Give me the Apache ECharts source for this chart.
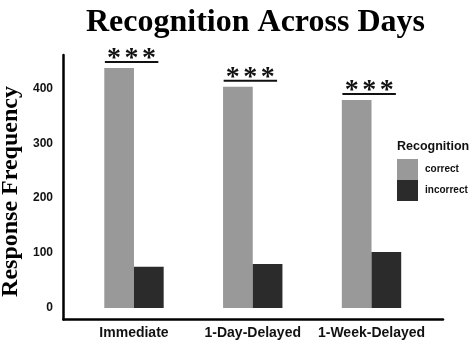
<!DOCTYPE html>
<html>
<head>
<meta charset="utf-8">
<script src="https://cdn.jsdelivr.net/npm/echarts@6/dist/echarts.min.js"></script>
<style>
html,body{margin:0;padding:0;background:#fff;}
#chart{width:474px;height:355px;}
</style>
</head>
<body>
<div id="chart"></div>
<script>
// ---- data ----
const categories = ['Immediate', '1-Day-Delayed', '1-Week-Delayed'];
const correctValues = [437, 403, 379];
const incorrectValues = [75, 80, 102];
const seriesNames = ['correct', 'incorrect'];
const significance = ['***', '***', '***'];
const yMin = 0, yMax = 450, yStep = 100;

const chart = echarts.init(document.getElementById('chart'), null, {renderer: 'canvas'});

const sans = 'Liberation Sans';
const serif = 'Liberation Serif';

const option = {
  backgroundColor: '#fff',
  animation: false,
  title: [
    {
      text: 'Recognition Across Days',
      left: 86, top: 7, padding: 0,
      textStyle: {fontFamily: serif, fontWeight: 'bold', fontSize: 32, color: '#000'}
    },
    {
      text: 'Recognition',
      left: 397, top: 140.5, padding: 0,
      textStyle: {fontFamily: sans, fontWeight: 'bold', fontSize: 12.5, color: '#111'}
    }
  ],
  legend: {
    data: seriesNames,
    orient: 'vertical',
    left: 397, top: 159,
    padding: 0,
    itemWidth: 21, itemHeight: 21, itemGap: 0,
    icon: 'rect',
    textStyle: {fontFamily: sans, fontWeight: 'bold', fontSize: 10, color: '#111', padding: [0, 0, 0, 2]}
  },
  graphic: [
    {
      type: 'text',
      x: 11, y: 191.5,
      rotation: Math.PI / 2,
      style: {
        text: 'Response Frequency',
        font: 'bold 24px "Liberation Serif"',
        fill: '#000',
        align: 'center', verticalAlign: 'middle',
        textAlign: 'center', textVerticalAlign: 'middle'
      }
    }
  ],
  grid: [
    {left: 74.6, right: 43.1, top: 60.9, bottom: 47},
    {left: 63.5, right: 31, top: 55, bottom: 35.5}
  ],
  xAxis: [
    {
      type: 'category', gridIndex: 0, data: categories,
      axisLine: {show: false}, axisTick: {show: false},
      axisLabel: {fontFamily: sans, fontWeight: 'bold', fontSize: 14, color: '#111', margin: 18, interval: 0}
    },
    {
      type: 'value', gridIndex: 1, min: 0, max: 1,
      axisLine: {show: true, lineStyle: {color: '#000', width: 2.5}},
      axisTick: {show: false}, axisLabel: {show: false}, splitLine: {show: false}
    }
  ],
  yAxis: [
    {
      type: 'value', gridIndex: 0, min: yMin, max: yMax, interval: yStep,
      axisLine: {show: false}, axisTick: {show: false}, splitLine: {show: false},
      axisLabel: {fontFamily: sans, fontWeight: 'bold', fontSize: 12, color: '#111', margin: 21.6, showMaxLabel: false}
    },
    {
      type: 'value', gridIndex: 1, min: 0, max: 1,
      axisLine: {show: true, lineStyle: {color: '#000', width: 2.5}},
      axisTick: {show: false}, axisLabel: {show: false}, splitLine: {show: false}
    }
  ],
  series: [
    {
      name: seriesNames[0], type: 'bar', xAxisIndex: 0, yAxisIndex: 0,
      data: correctValues, barGap: 0, barCategoryGap: '50%',
      itemStyle: {color: '#999999'}
    },
    {
      name: seriesNames[1], type: 'bar', xAxisIndex: 0, yAxisIndex: 0,
      data: incorrectValues, barGap: 0, barCategoryGap: '50%',
      itemStyle: {color: '#2b2b2b'}
    },
    {
      type: 'custom', xAxisIndex: 0, yAxisIndex: 0, clip: false, silent: true,
      data: categories.map((c, i) => [i, correctValues[i]]),
      encode: {x: 0, y: 1},
      renderItem: function (params, api) {
        const pt = api.coord([api.value(0), api.value(1)]);
        const bw = api.size([1, 0])[0];
        const left = pt[0] - bw * 0.245;
        const right = pt[0] + bw * 0.205;
        const ly = pt[1] - 6;
        const cx = (left + right) / 2;
        const txt = significance[params.dataIndex];
        const children = [
          {type: 'line', shape: {x1: left, y1: ly, x2: right, y2: ly},
           style: {stroke: '#111', lineWidth: 2}}
        ];
        const n = txt.length;
        for (let k = 0; k < n; k++) {
          children.push({
            type: 'text',
            style: {
              text: txt[k], x: cx + (k - (n - 1) / 2) * 17.5, y: ly - 3,
              font: 'bold 28px "Liberation Serif"', fill: '#111',
              align: 'center', verticalAlign: 'middle',
              textAlign: 'center', textVerticalAlign: 'middle'
            }
          });
        }
        return {type: 'group', children: children};
      }
    }
  ]
};
chart.setOption(option);
</script>
</body>
</html>
